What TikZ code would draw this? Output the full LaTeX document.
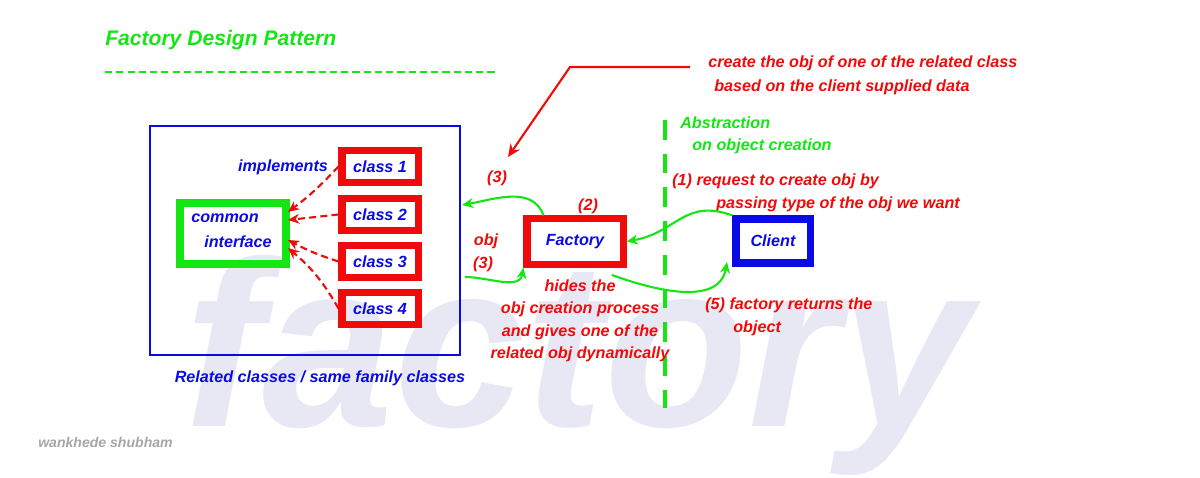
\documentclass[tikz,border=0pt]{standalone}
\usepackage{fontspec}
\setmainfont{Liberation Sans}
\usetikzlibrary{arrows.meta}
\definecolor{gr}{RGB}{20,230,20}
\definecolor{rd}{RGB}{240,10,10}
\definecolor{bl}{RGB}{10,10,230}
\definecolor{wm}{RGB}{232,232,245}
\tikzset{
 t/.style={font=\itshape\bfseries\fontsize{11.5}{14}\selectfont,inner sep=0},
 rt/.style={t,text=rd,anchor=west},
 bt/.style={t,text=bl},
 gt/.style={t,text=gr,anchor=west},
 cls/.style={draw=rd,line width=5pt,minimum height=0.8cm,inner sep=0,font=\itshape\bfseries\fontsize{11.5}{14}\selectfont,text=bl},
 ga/.style={draw=gr,line width=1.5pt,-{Stealth[length=8pt,width=7pt]}},
 ra/.style={draw=rd,line width=1.5pt,dash pattern=on 5pt off 3pt,-{Stealth[length=8pt,width=7pt]}}
}
\begin{document}
\begin{tikzpicture}[x=0.025cm,y=-0.025cm]
\useasboundingbox (0,0) rectangle (1200,478);
\node[text=wm,font=\bfseries\itshape\fontsize{168}{168}\selectfont,inner sep=0] (wmk) at (578,365) {factory};
\node[gt,font=\itshape\bfseries\fontsize{15}{18}\selectfont] (title) at (105,40) {Factory Design Pattern};
\coordinate (d1) at (105,72); \coordinate (d2) at (497,72);
\draw[gr,line width=1.5pt,dash pattern=on 5pt off 3pt] (d1)--(d2);
\node[draw=bl,line width=1.5pt,minimum width=7.75cm,minimum height=5.725cm,inner sep=0] (rel) at (305,240.5) {};
\node[draw=gr,line width=6pt,minimum width=2.65cm,minimum height=1.52cm,inner sep=0] (ci) at (233,233.5) {};
\node[bt] (c1t) at (225,218) {common};
\node[bt] (c2t) at (238,242) {interface};
\node[cls,minimum width=1.9cm] (k1) at (380,166.5) {class 1};
\node[cls,minimum width=1.9cm] (k2) at (380,214.5) {class 2};
\node[cls,minimum width=1.9cm] (k3) at (380,261.5) {class 3};
\node[cls,minimum width=1.9cm] (k4) at (380,308.5) {class 4};
\node[bt] (imp) at (283,167) {implements};
\coordinate (e1) at (288,212);\coordinate (e2) at (288,220);\coordinate (e3) at (288,240);\coordinate (e4) at (288,248);
\draw[ra] (k1.west) to[bend left=5] (e1);
\draw[ra] (k2.west) -- (e2);
\draw[ra] (k3.west) to[bend left=5] (e3);
\draw[ra] (k4.west) to[bend right=10] (e4);
\node[bt] (relt) at (320,378) {Related classes / same family classes};
\node[cls,minimum width=2.4cm,minimum height=1.13cm] (fac) at (575,241.5) {Factory};
\node[cls,draw=bl,minimum width=1.85cm,minimum height=1.1cm] (cli) at (773,241) {Client};
\coordinate (v1) at (665,120);\coordinate (v2) at (665,408);
\draw[gr,line width=3pt,dash pattern=on 14pt off 10pt] (v1)--(v2);
\node[gt] (ab1) at (680,123) {Abstraction};
\node[gt] (ab2) at (692,146) {on object creation};
\node[rt] (cr1) at (708,63) {create the obj of one of the related class};
\node[rt] (cr2) at (714,87) {based on the client supplied data};
\coordinate (p1) at (690,67);\coordinate (p2) at (570,67);\coordinate (p3) at (508,157);
\draw[rd,line width=1.5pt,-{Stealth[length=9pt,width=8pt]}] (p1)--(p2)--(p3);
\node[t,text=rd] (n3a) at (497,178) {(3)};
\coordinate (q1) at (462,205);
\draw[ga] (fac.north west) ++(20,0) coordinate (fq) (fq) to[out=110,in=10] (q1);
\node[t,text=rd] (n2) at (588,206) {(2)};
\node[t,text=rd] (objt) at (486,241) {obj};
\node[t,text=rd] (n3b) at (483,264) {(3)};
\coordinate (q2) at (465,277);
\draw[ga] (q2) to[out=0,in=-100] (fac.south west);
\node[t,text=rd,align=center] (hid) at (580,321) {hides the\\[2pt]obj creation process\\[2pt]and gives one of the\\[2pt]related obj dynamically};
\node[rt] (r1) at (672,181) {(1) request to create obj by};
\node[rt] (r2) at (716,204) {passing type of the obj we want};
\draw[ga] (cli.north west) to[out=160,in=10,looseness=1.2] (fac.east);
\coordinate (q3) at (612,275);\coordinate (q4) at (727,262);
\draw[ga] (q3) to[out=-20,in=-100] (q4);
\node[rt] (f1) at (705,305) {(5) factory returns the};
\node[rt] (f2) at (733,328) {object};
\node[t,text=gray!70,anchor=west,font=\itshape\bfseries\fontsize{10}{12}\selectfont] (wk) at (38,442) {wankhede shubham};
\end{tikzpicture}
\end{document}
